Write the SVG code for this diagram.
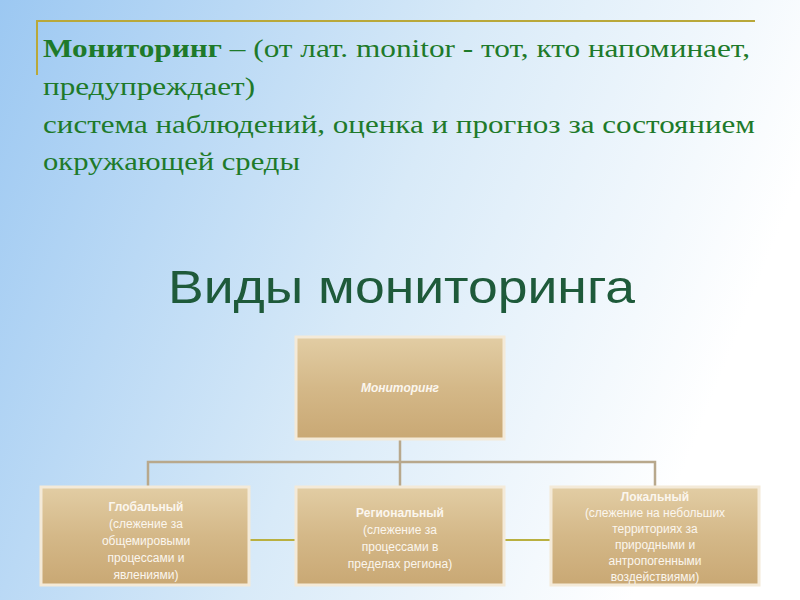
<svg xmlns="http://www.w3.org/2000/svg" width="800" height="600" viewBox="0 0 800 600">
<defs>
<linearGradient id="bg" x1="0" y1="0" x2="1" y2="0.3">
<stop offset="0" stop-color="#9cc8f2"/><stop offset="0.55" stop-color="#d8eaf8"/><stop offset="1" stop-color="#ffffff"/>
</linearGradient>
<linearGradient id="box" x1="0" y1="0" x2="0" y2="1">
<stop offset="0" stop-color="#e2cda4"/><stop offset="0.5" stop-color="#d4b888"/><stop offset="1" stop-color="#c9a874"/>
</linearGradient>
<style>
.b{fill:url(#box);stroke:#f4ead8;stroke-width:3}
.h{font-family:"Liberation Serif",serif;fill:#1e7a2a;font-size:25px}
.t{font-family:"Liberation Sans",sans-serif;fill:#fbf6ee;font-size:12px;text-anchor:middle}
.c{fill:none;stroke:#b8a88c;stroke-width:2.5}
</style>
</defs>
<rect width="800" height="600" fill="url(#bg)"/>
<path d="M37 75 V21 H755" fill="none" stroke="#b9a83a" stroke-width="2"/>
<text class="h" x="43" y="57" textLength="707" lengthAdjust="spacingAndGlyphs"><tspan font-weight="bold">Мониторинг</tspan> – (от лат. monitor - тот, кто напоминает,</text>
<text class="h" x="43" y="95" textLength="212" lengthAdjust="spacingAndGlyphs">предупреждает)</text>
<text class="h" x="43" y="133" textLength="712" lengthAdjust="spacingAndGlyphs">система наблюдений, оценка и прогноз за состоянием</text>
<text class="h" x="43" y="170" textLength="257" lengthAdjust="spacingAndGlyphs">окружающей среды</text>
<text x="168" y="303" font-family="Liberation Sans,sans-serif" font-size="46" fill="#1e5a3a" textLength="467" lengthAdjust="spacingAndGlyphs">Виды мониторинга</text>
<g id="connectors">
<path class="c" d="M400 440 V462 M148 486 V462 H655 V486 M400 462 V486"/>
<path d="M250 540 H295 M505 540 H550" stroke="#b9b040" stroke-width="2"/>
</g>
<g id="n0"><rect class="b" x="296" y="337" width="208" height="102"/>
<text class="t" x="400" y="392" font-weight="bold" font-style="italic">Мониторинг</text></g>
<g id="n1"><rect class="b" x="41" y="487" width="208" height="98"/>
<text class="t" x="146" y="511"><tspan font-weight="bold">Глобальный</tspan><tspan x="146" dy="17">(слежение за</tspan><tspan x="146" dy="17">общемировыми</tspan><tspan x="146" dy="17">процессами и</tspan><tspan x="146" dy="17">явлениями)</tspan></text></g>
<g id="n2"><rect class="b" x="296" y="487" width="208" height="98"/>
<text class="t" x="400" y="517"><tspan font-weight="bold">Региональный</tspan><tspan x="400" dy="17">(слежение за</tspan><tspan x="400" dy="17">процессами в</tspan><tspan x="400" dy="17">пределах региона)</tspan></text></g>
<g id="n3"><rect class="b" x="551" y="487" width="208" height="98"/>
<text class="t" x="655" y="501"><tspan font-weight="bold">Локальный</tspan><tspan x="655" dy="16">(слежение на небольших</tspan><tspan x="655" dy="16">территориях за</tspan><tspan x="655" dy="16">природными и</tspan><tspan x="655" dy="16">антропогенными</tspan><tspan x="655" dy="16">воздействиями)</tspan></text></g>
</svg>
